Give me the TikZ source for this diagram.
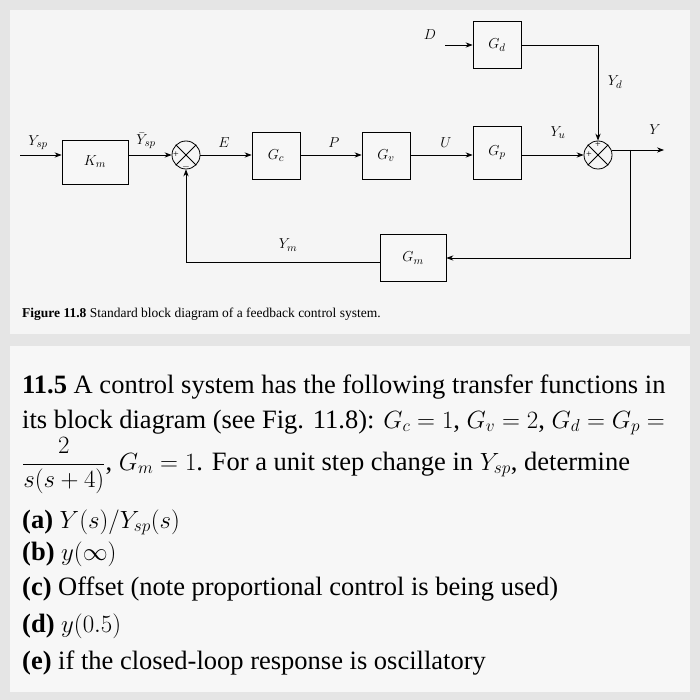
\documentclass[tikz,border=0pt]{standalone}
\usepackage{fontspec}
\setmainfont{Liberation Serif}
\usetikzlibrary{arrows.meta}
\begin{document}
\begin{tikzpicture}[x=1pt,y=-1pt,
 blk/.style={draw,line width=0.8pt,fill=white!60!gray!15,minimum width=48pt,minimum height=47pt,inner sep=0pt,font=\fontsize{15}{15}\selectfont},
 sumj/.style={draw,circle,line width=0.8pt,minimum size=28pt,inner sep=0pt},
 ln/.style={line width=0.8pt},
 ar/.style={line width=0.8pt,-{Stealth[length=7pt]}},
 lb/.style={font=\fontsize{15}{15}\selectfont\itshape},
 body/.style={font=\fontsize{26.5}{26.5}\selectfont,anchor=base west,inner sep=0pt}]
\useasboundingbox (0,0) rectangle (700,700);
\fill[white!90!black] (0,0) rectangle (700,700);
\fill[white!96!black] (10,10) rectangle (690,334);
\fill[white!97!black] (10,346) rectangle (690,692);
% blocks
\node[blk,minimum width=66pt,minimum height=44pt] (km) at (95,162) {$K_m$};
\node[sumj] (s1) at (186,155) {};
\node[blk] (gc) at (276,156) {$G_c$};
\node[blk] (gv) at (386,156) {$G_v$};
\node[blk,minimum height=53pt] (gp) at (497,153) {$G_p$};
\node[blk] (gd) at (497,45) {$G_d$};
\node[sumj] (s2) at (598,155) {};
\node[blk,minimum width=66pt] (gm) at (413,258) {$G_m$};
\draw[ln] (s1.north west)--(s1.south east) (s1.north east)--(s1.south west);
\draw[ln] (s2.north west)--(s2.south east) (s2.north east)--(s2.south west);
\node[font=\fontsize{10}{10}\selectfont] at (176,155) {+};
\node[font=\fontsize{10}{10}\selectfont] at (186,167) {$-$};
\node[font=\fontsize{10}{10}\selectfont] at (589,155) {+};
\node[font=\fontsize{10}{10}\selectfont] at (598,145) {+};
\coordinate (in) at (20,155);
\coordinate (dd) at (445,45);
\coordinate (out) at (664,150);
\coordinate (c1) at (598,45);
\coordinate (c2) at (630,150);
\coordinate (c3) at (630,258);
\coordinate (c4) at (186,262);
\draw[ar] (in)--(km.west|-in);
\draw[ar] (km.east|-s1)--(s1.west);
\draw[ar] (s1.east)--(gc.west|-s1);
\draw[ar] (gc.east|-s1)--(gv.west|-s1);
\draw[ar] (gv.east|-s1)--(gp.west|-s1);
\draw[ar] (gp.east|-s2)--(s2.west);
\draw[ar] (dd)--(gd.west);
\draw[ar] (gd.east)--(c1)--(s2.north);
\draw[ar] (s2.east|-out) -- (out);
\draw[ar] (c2)--(c3)--(gm.east|-c3);
\draw[ar] (gm.west|-c4)--(c4)--(s1.south);
\node[lb] at (38,143) {$Y_{sp}$};
\node[lb] at (146,141) {$\bar Y_{sp}$};
\node[lb] at (224,143) {$E$};
\node[lb] at (334,143) {$P$};
\node[lb] at (446,143) {$U$};
\node[lb] at (558,133) {$Y_u$};
\node[lb] at (655,130) {$Y$};
\node[lb] at (430,35) {$D$};
\node[lb] at (615,82) {$Y_d$};
\node[lb] at (288,245) {$Y_m$};
\node[anchor=base west,inner sep=0pt,font=\fontsize{13.5}{13.5}\selectfont] at (22,317) {\textbf{Figure 11.8} Standard block diagram of a feedback control system.};
\begin{scope}
\clip (10,346) rectangle (690,692);
\node[body] at (22,393) {\textbf{11.5} A control system has the following transfer functions in};
\node[body] at (22,428) {its block diagram (see Fig. 11.8): $G_c=1$, $G_v=2$, $G_d=G_p=$};
\node[body] at (22,470) {$\displaystyle\frac{2}{s(s+4)}$, $G_m=1$. For a unit step change in $Y_{sp}$, determine};
\node[body] at (22,528) {\textbf{(a)} $Y(s)/Y_{sp}(s)$};
\node[body] at (22,560) {\textbf{(b)} $y(\infty)$};
\node[body] at (22,595) {\textbf{(c)} Offset (note proportional control is being used)};
\node[body] at (22,632) {\textbf{(d)} $y(0.5)$};
\node[body] at (22,669) {\textbf{(e)} if the closed-loop response is oscillatory};
\end{scope}
\end{tikzpicture}
\end{document}
